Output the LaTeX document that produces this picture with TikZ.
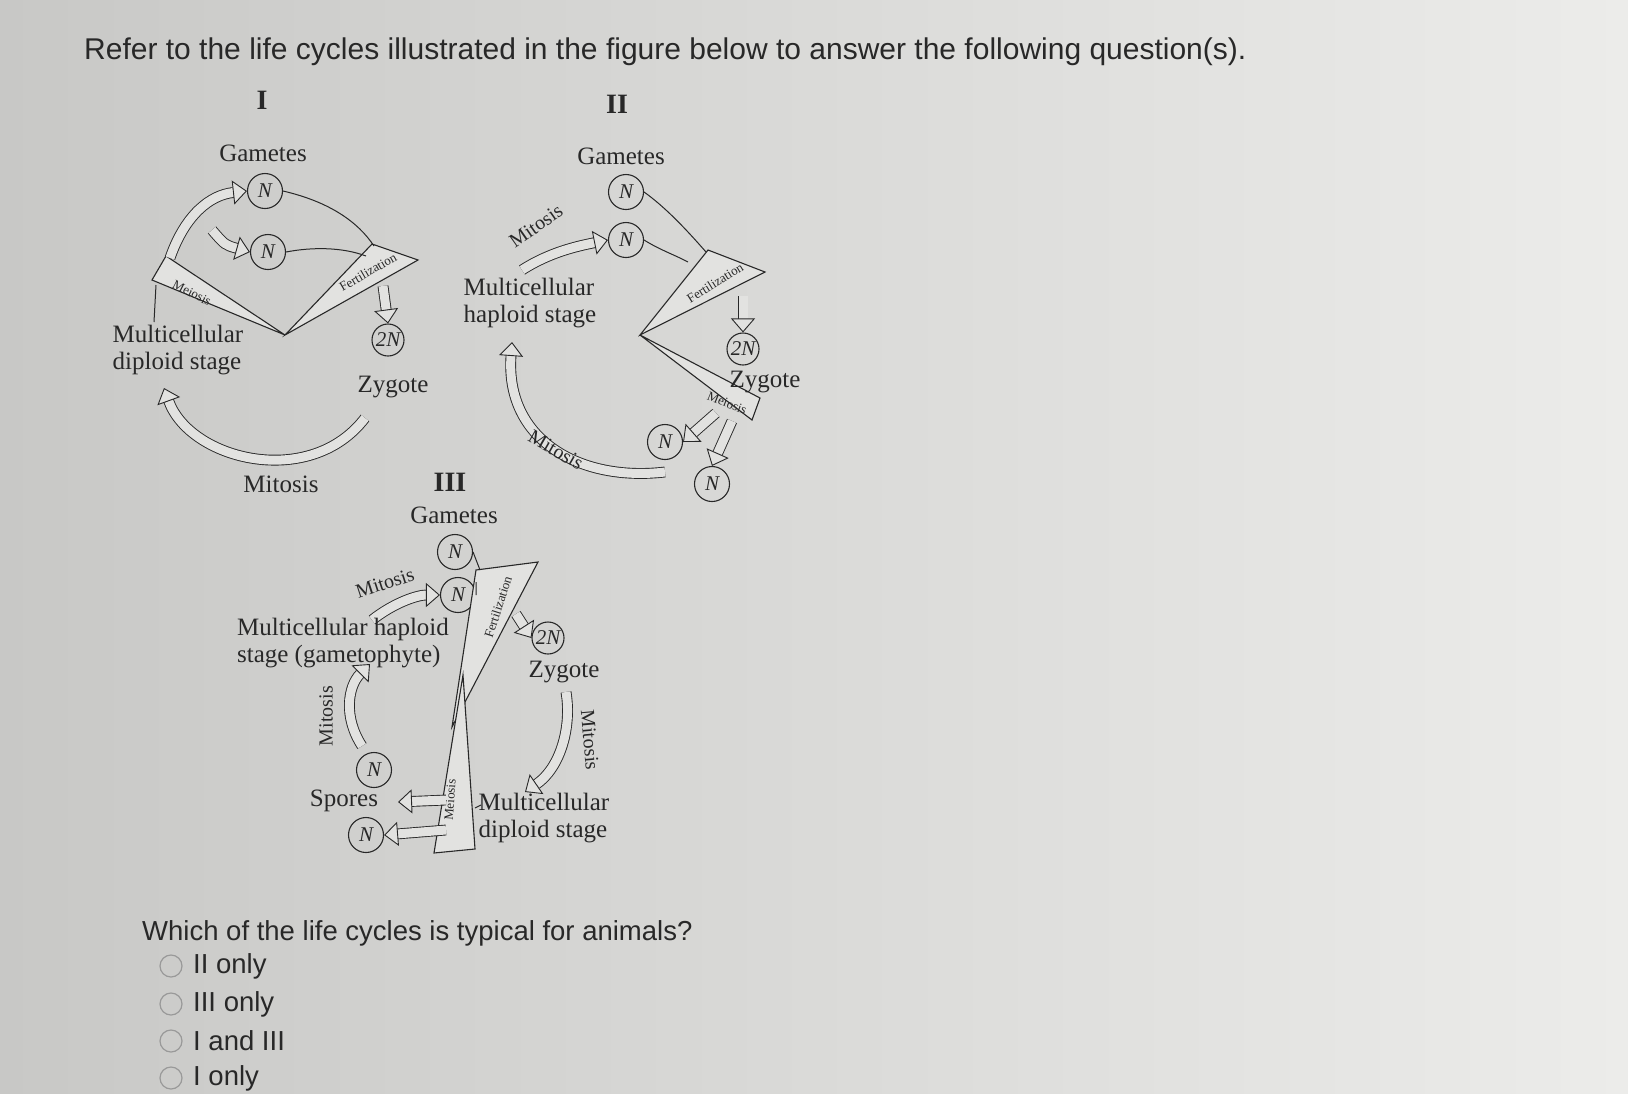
\documentclass[tikz,border=0pt]{standalone}
\usepackage{fontspec}
\setmainfont{Liberation Serif}
\newfontfamily\qsans{Liberation Sans}
\usetikzlibrary{arrows.meta}
\definecolor{bg}{RGB}{226,226,224}
\definecolor{bgl}{RGB}{200,200,198}
\definecolor{bgr}{RGB}{236,236,234}
\definecolor{ink}{RGB}{40,40,40}
\tikzset{
  lbl/.style={font=\fontsize{25}{27}\selectfont, text=ink, align=left, inner sep=1pt},
  rlbl/.style={font=\fontsize{20}{22}\selectfont, text=ink, inner sep=0pt},
  cell/.style={circle, draw=ink, line width=1.1pt, minimum size=35pt, inner sep=0pt, font=\fontsize{21}{22}\selectfont\itshape, text=ink},
  band/.style={draw=ink, line width=1.1pt, fill=bg},
  bandtxt/.style={font=\fontsize{13}{14}\selectfont, text=ink, inner sep=0pt},
  fat/.style={draw=ink, line width=0.9pt, double=bg, double distance=9pt, -{Triangle[open, length=14pt, width=24pt, fill=bg]}},
  thin/.style={draw=ink, line width=1pt},
  radio/.style={circle, draw=gray!80, line width=1.2pt, minimum size=22pt, inner sep=0pt},
  qtxt/.style={font=\qsans\fontsize{27.5}{30}\selectfont, text=ink, anchor=west, inner sep=0pt}
}
\begin{document}
\begin{tikzpicture}[x=1pt,y=-1pt]
\shade[left color=bgl, right color=bgr] (0,0) rectangle (1628,1093);
\useasboundingbox (0,0) rectangle (1628,1093);

\node[qtxt, font=\qsans\fontsize{30}{32}\selectfont] (title) at (84,52) {Refer to the life cycles illustrated in the figure below to answer the following question(s).};
\node[lbl, font=\fontsize{28}{28}\selectfont\bfseries] (nI) at (262,100) {I};
\node[lbl, font=\fontsize{28}{28}\selectfont\bfseries] (nII) at (617,104) {II};
\node[lbl, font=\fontsize{28}{28}\selectfont\bfseries] (nIII) at (450,482) {III};

% ---------- Cycle I ----------
\node[lbl] (gI) at (263,153) {Gametes};
\node[cell] (I1) at (265,191) {N};
\node[cell] (I2) at (268,252) {N};
\coordinate (Iap) at (285,335);
\filldraw[band] (152,280) -- (166,256) -- (Iap) -- cycle;
\node[bandtxt, rotate=-27] (Imei) at (192,293) {Meiosis};
\filldraw[band] (372,244) -- (418,260) -- (Iap) -- cycle;
\node[bandtxt, rotate=30] (Ifer) at (368,272) {Fertilization};
\draw[fat] (170,258) .. controls (185,215) and (210,195) .. (I1.west);
\draw[fat] (212,230) .. controls (225,245) .. (I2.west);
\draw[thin] (I1.east) .. controls (330,202) and (358,222) .. (374,246);
\draw[thin] (I2.east) .. controls (312,247) and (342,247) .. (366,256);
\node[cell, minimum size=32pt] (I2N) at (388,340) {2N};
\draw[fat] (383,286) -- (I2N.north);
\node[lbl] (Izy) at (393,387) {Zygote};
\node[lbl] (Imd) at (178,350) {Multicellular\\diploid stage};
\draw[thin] (156,285) -- (154,322);
\draw[fat] (365,418) .. controls (310,490) and (190,460) .. (164,388);
\node[lbl] (Imit) at (281,484) {Mitosis};

% ---------- Cycle II ----------
\node[lbl] (gII) at (621,156) {Gametes};
\node[cell] (II1) at (626,192) {N};
\node[cell] (II2) at (626,240) {N};
\node[rlbl, rotate=35] (IImit1) at (536,226) {Mitosis};
\draw[fat] (522,270) .. controls (550,252) and (578,246) .. (II2.west);
\node[lbl] (IIhap) at (530,303) {Multicellular\\haploid stage};
\coordinate (IIap) at (640,335);
\filldraw[band] (708,250) -- (765,272) -- (IIap) -- cycle;
\node[bandtxt, rotate=32] (IIfer) at (715,283) {Fertilization};
\filldraw[band] (IIap) -- (760,398) -- (752,420) -- cycle;
\node[bandtxt, rotate=-22] (IImei) at (727,403) {Meiosis};
\draw[thin] (II1.east) .. controls (665,207) and (685,228) .. (706,252);
\draw[thin] (II2.east) .. controls (660,250) and (675,255) .. (688,262);
\node[cell, minimum size=32pt] (II2N) at (743,349) {2N};
\draw[fat] (743,296) -- (II2N.north);
\node[lbl] (IIzy) at (765,382) {Zygote};
\node[cell] (II3) at (665,442) {N};
\node[cell] (II4) at (712,484) {N};
\draw[fat] (716,413) -- (II3.east);
\draw[fat] (732,421) -- (II4.north);
\draw[fat] (665,472) .. controls (580,482) and (505,440) .. (512,342);
\node[rlbl, rotate=-30] (IImit2) at (556,450) {Mitosis};

% ---------- Cycle III ----------
\node[lbl] (gIII) at (454,515) {Gametes};
\node[cell] (III1) at (455,552) {N};
\node[cell] (III2) at (458,595) {N};
\node[rlbl, rotate=18] (IIImit1) at (385,583) {Mitosis};
\draw[fat] (372,620) .. controls (395,602) and (418,595) .. (III2.west);
\node[lbl] (IIIhap) at (343,643) {Multicellular haploid\\stage (gametophyte)};
\filldraw[band] (476,570) -- (538,562) -- (452,727) -- cycle;
\node[bandtxt, rotate=72] (IIIfer) at (498,607) {Fertilization};
\filldraw[band] (434,853) -- (475,849) -- (463,675) -- cycle;
\node[bandtxt, rotate=86] (IIImei) at (450,800) {Meiosis};
\draw[thin] (III1.east) -- (480,570);
\draw[thin] (III2.east) -- (476,582);
\node[cell, minimum size=32pt] (III2N) at (548,638) {2N};
\draw[fat] (516,614) -- (III2N.west);
\node[lbl] (IIIzy) at (564,672) {Zygote};
\draw[fat] (566,692) .. controls (572,728) and (560,768) .. (525,792);
\node[rlbl, rotate=-85] (IIImit2) at (590,740) {Mitosis};
\node[lbl] (IIIdip) at (544,818) {Multicellular\\diploid stage};
\draw[thin] (475,808) -- (481,805);
\node[cell] (III3) at (374,770) {N};
\node[cell] (III4) at (366,835) {N};
\node[lbl] (IIIsp) at (344,801) {Spores};
\draw[fat] (446,800) -- (398,802);
\draw[fat] (446,830) -- (III4.east);
\draw[fat] (362,746) .. controls (343,717) and (348,686) .. (370,664);
\node[rlbl, rotate=90] (IIImit3) at (326,716) {Mitosis};

% ---------- Question ----------
\node[qtxt] (q) at (142,933) {Which of the life cycles is typical for animals?};
\node[radio] (r1) at (171,966) {};
\node[radio] (r2) at (171,1004) {};
\node[radio] (r3) at (171,1041) {};
\node[radio] (r4) at (171,1078) {};
\node[qtxt] (o1) at (193,966) {II only};
\node[qtxt] (o2) at (193,1004) {III only};
\node[qtxt] (o3) at (193,1041) {I and III};
\node[qtxt] (o4) at (193,1078) {I only};
\end{tikzpicture}
\end{document}
